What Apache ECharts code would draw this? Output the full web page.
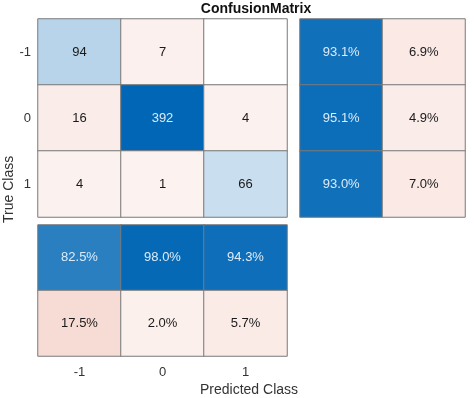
<!DOCTYPE html>
<html>
<head>
<meta charset="utf-8">
<script src="https://cdn.jsdelivr.net/npm/echarts@6/dist/echarts.min.js"></script>
<style>
  html, body { margin: 0; padding: 0; background: #fff; }
  #chart { width: 474px; height: 398px; }
</style>
</head>
<body>
<div id="chart"></div>
<script>
// class labels
var classes = ['-1', '0', '1'];
// counts: rows = true class, cols = predicted class
var counts = [
  [94, 7, 0],
  [16, 392, 4],
  [4, 1, 66]
];
// row summary (true class): correct / incorrect %
var rowCorrect = [93.1, 95.1, 93.0];
var rowWrong = [6.9, 4.9, 7.0];
// column summary (predicted class): correct / incorrect %
var colCorrect = [82.5, 98.0, 94.3];
var colWrong = [17.5, 2.0, 5.7];

var FONT = 'Liberation Sans';

function mix(c, t) {
  var r = Math.round(255 + (c[0] - 255) * t);
  var g = Math.round(255 + (c[1] - 255) * t);
  var b = Math.round(255 + (c[2] - 255) * t);
  return 'rgb(' + r + ',' + g + ',' + b + ')';
}
function blue(t) { return mix([0, 102, 181], 0.05 + 0.95 * t); }
function red(t) { return t <= 0 ? '#ffffff' : mix([215, 95, 60], 0.08 + 0.8 * t); }
function textCol(t, good) { return good && t > 0.6 ? '#dcebf7' : '#1a1a1a'; }

var maxCount = 392;
var mainData = [];
for (var i = 0; i < 3; i++) {
  for (var j = 0; j < 3; j++) {
    var v = counts[i][j];
    var t = v / maxCount;
    var good = i === j;
    mainData.push({
      value: [j, i, v],
      itemStyle: { color: good ? blue(t) : red(t) },
      label: { show: v > 0, color: textCol(t, good) }
    });
  }
}

var rowData = [];
for (var i = 0; i < 3; i++) {
  rowData.push({ value: [0, i, rowCorrect[i]], itemStyle: { color: blue(rowCorrect[i] / 100) },
    label: { color: textCol(rowCorrect[i] / 100, true) } });
  rowData.push({ value: [1, i, rowWrong[i]], itemStyle: { color: red(rowWrong[i] / 100) },
    label: { color: '#1a1a1a' } });
}

var colData = [];
for (var j = 0; j < 3; j++) {
  colData.push({ value: [j, 0, colCorrect[j]], itemStyle: { color: blue(colCorrect[j] / 100) },
    label: { color: textCol(colCorrect[j] / 100, true) } });
  colData.push({ value: [j, 1, colWrong[j]], itemStyle: { color: red(colWrong[j] / 100) },
    label: { color: '#1a1a1a' } });
}

var cellStyle = { borderColor: '#7a7a7a', borderWidth: 1 };
var hiddenAxis = {
  axisLine: { show: false }, axisTick: { show: false },
  axisLabel: { show: false }, splitLine: { show: false }
};

var myChart = echarts.init(document.getElementById('chart'));
var option = {
  animation: false,
  backgroundColor: '#fff',
  textStyle: { fontFamily: FONT },
  title: {
    text: 'ConfusionMatrix',
    left: 251, top: -3,
    textAlign: 'center',
    textStyle: { fontFamily: FONT, fontSize: 14, fontWeight: 'bold', color: '#111' }
  },
  grid: [
    { left: 38, top: 19, width: 249, height: 198 },
    { left: 300, top: 19, width: 165, height: 198 },
    { left: 38, top: 225, width: 249, height: 131 }
  ],
  xAxis: [
    Object.assign({ type: 'category', gridIndex: 0, data: classes }, hiddenAxis),
    Object.assign({ type: 'category', gridIndex: 1, data: ['correct', 'wrong'] }, hiddenAxis),
    {
      type: 'category', gridIndex: 2, data: classes,
      axisLine: { show: false }, axisTick: { show: false }, splitLine: { show: false },
      axisLabel: { fontFamily: FONT, fontSize: 13, color: '#333', margin: 10 }
    }
  ],
  yAxis: [
    {
      type: 'category', gridIndex: 0, data: classes, inverse: true,
      axisLine: { show: false }, axisTick: { show: false }, splitLine: { show: false },
      axisLabel: { fontFamily: FONT, fontSize: 13, color: '#333', margin: 7 }
    },
    Object.assign({ type: 'category', gridIndex: 1, data: classes, inverse: true }, hiddenAxis),
    Object.assign({ type: 'category', gridIndex: 2, data: ['correct', 'wrong'], inverse: true }, hiddenAxis)
  ],
  graphic: [
    {
      type: 'text', left: 200, top: 383,
      style: { text: 'Predicted Class', font: '14px "Liberation Sans"', fill: '#333' }
    },
    {
      type: 'text', x: 2, y: 223, rotation: Math.PI / 2,
      style: { text: 'True Class', font: '14px "Liberation Sans"', fill: '#333' }
    }
  ],
  series: [
    {
      type: 'heatmap', xAxisIndex: 0, yAxisIndex: 0, data: mainData,
      itemStyle: cellStyle,
      label: { show: true, fontFamily: FONT, fontSize: 13,
        formatter: function (p) { return p.value[2]; } }
    },
    {
      type: 'heatmap', xAxisIndex: 1, yAxisIndex: 1, data: rowData,
      itemStyle: cellStyle,
      label: { show: true, fontFamily: FONT, fontSize: 13,
        formatter: function (p) { return p.value[2].toFixed(1) + '%'; } }
    },
    {
      type: 'heatmap', xAxisIndex: 2, yAxisIndex: 2, data: colData,
      itemStyle: cellStyle,
      label: { show: true, fontFamily: FONT, fontSize: 13,
        formatter: function (p) { return p.value[2].toFixed(1) + '%'; } }
    }
  ]
};
myChart.setOption(option);
</script>
</body>
</html>
